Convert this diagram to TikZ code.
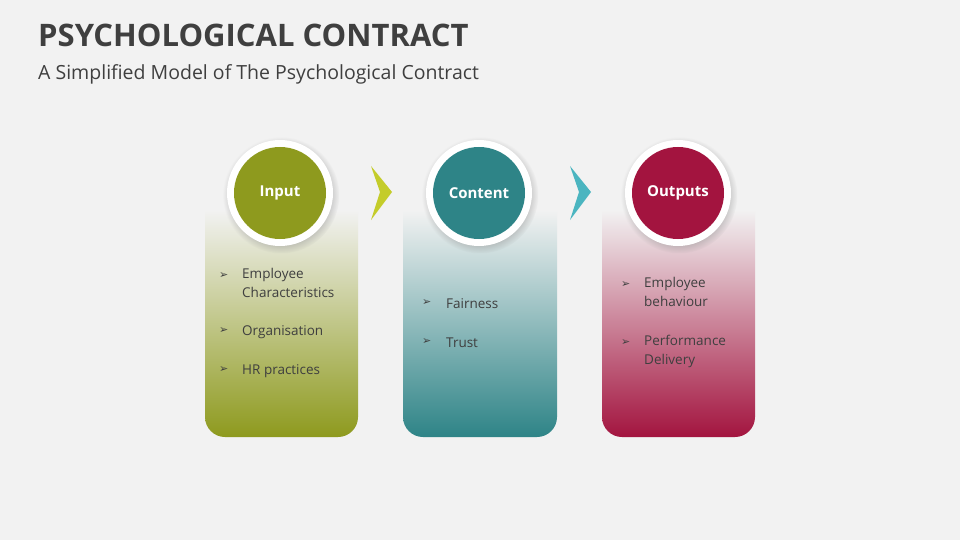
\documentclass[tikz,border=0pt]{standalone}
\usepackage{fontspec}
\setmainfont{Open Sans}
\newfontfamily\symf{DejaVu Sans}
\usetikzlibrary{shadows}
\definecolor{bg}{HTML}{F2F2F2}
\definecolor{olive}{HTML}{8E9A1E}
\definecolor{tealc}{HTML}{2E8487}
\definecolor{crim}{HTML}{A3143F}
\definecolor{lime}{HTML}{C4CC2A}
\definecolor{tlight}{HTML}{4BB5C0}
\definecolor{txt}{HTML}{3F3F3F}
\tikzset{
  ring/.style={circle,fill=white,minimum size=106pt,inner sep=0pt,circular drop shadow={shadow xshift=1pt,shadow yshift=-2pt,opacity=0.35}},
  disc/.style={circle,fill=#1,minimum size=92pt,inner sep=0pt,text=white,font=\fontsize{15}{18}\selectfont\bfseries},
  item/.style={anchor=west,text=txt,font=\fontsize{13.5}{19}\selectfont,align=left,inner sep=0pt},
  bul/.style={anchor=west,text=txt,font=\symf\fontsize{11}{13}\selectfont,inner sep=0pt}
}
\newcommand{\panel}[3]{%
  \shade[top color=bg,middle color=#3!25,bottom color=#3]
    (#1,210) -- (#2,210) [rounded corners=20pt]-- (#2,437) -- (#1,437) [sharp corners]-- cycle;}
\begin{document}
\begin{tikzpicture}[x=1pt,y=-1pt]
\fill[bg] (0,0) rectangle (960,540);
\useasboundingbox (0,0) rectangle (960,540);
\node[anchor=west,text=txt,font=\fontsize{31}{36}\selectfont\bfseries,inner sep=0pt] (title) at (38,35) {PSYCHOLOGICAL CONTRACT};
\node[anchor=west,text=txt,font=\fontsize{19.5}{24}\selectfont,inner sep=0pt] (sub) at (38,74) {A Simplified Model of The Psychological Contract};
\panel{205}{358}{olive}
\panel{403}{557}{tealc}
\panel{602}{755}{crim}
\node[ring] (r1) at (280,193) {};
\node[ring] (r2) at (479,193) {};
\node[ring] (r3) at (678,193) {};
\node[disc=olive] (c1) at (r1) {Input};
\node[disc=tealc] (c2) at (r2) {Content};
\node[disc=crim] (c3) at (r3) {Outputs};
\fill[lime] (371,166) -- (392,192) -- (371,220) -- (380,192) -- cycle;
\fill[tlight] (570,166) -- (591,192) -- (570,220) -- (579,192) -- cycle;
% Input items
\node[bul] (b1) at (219,276) {➢};
\node[item,anchor=north west] (t1) at (242,268) {Employee\\Characteristics};
\node[bul] (b2) at (219,331) {➢};
\node[item] (t2) at (242,332) {Organisation};
\node[bul] (b3) at (219,370) {➢};
\node[item] (t3) at (242,371) {HR practices};
% Content
\node[bul] (b4) at (422,303) {➢};
\node[item] (t4) at (446,304) {Fairness};
\node[bul] (b5) at (422,342) {➢};
\node[item] (t5) at (446,343) {Trust};
% Outputs
\node[bul] (b6) at (621,285) {➢};
\node[item,anchor=north west] (t6) at (644,277) {Employee\\behaviour};
\node[bul] (b7) at (621,343) {➢};
\node[item,anchor=north west] (t7) at (644,335) {Performance\\Delivery};
\end{tikzpicture}
\end{document}
